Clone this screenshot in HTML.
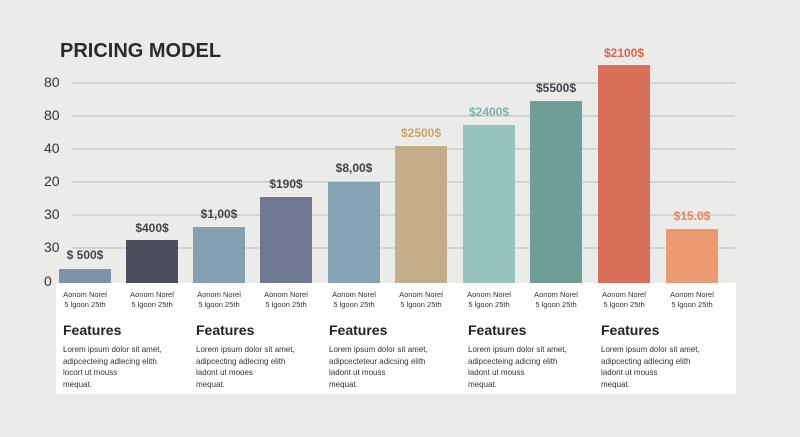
<!DOCTYPE html>
<html><head><style>
body{margin:0;width:800px;height:437px;background:#ebebea;position:relative;overflow:hidden;font-family:"Liberation Sans",sans-serif}
.a{position:absolute}
.g{position:absolute;left:72px;width:663px;height:2px;background:#d3d3d3}
.y{position:absolute;left:44px;font-size:14px;color:#333;width:20px}
.b{position:absolute;width:52px}
.v{position:absolute;width:80px;text-align:center;font-size:12px;font-weight:bold}
.l{position:absolute;width:70px;text-align:center;font-size:7.5px;color:#333;line-height:10px}
.f{position:absolute;top:322px;font-size:14px;font-weight:bold;color:#222}
.t{position:absolute;top:344px;font-size:8px;color:#333;line-height:11.5px}
</style></head><body>
<div class="a" style="left:60px;top:40px;font-size:20px;font-weight:bold;color:#2b2b2b">PRICING MODEL</div>
<div class="a" style="left:56px;top:283px;width:680px;height:111px;background:#fff"></div>
<div class="g" style="top:82px"></div><div class="g" style="top:115px"></div><div class="g" style="top:148px"></div><div class="g" style="top:181px"></div><div class="g" style="top:214px"></div><div class="g" style="top:247px"></div>
<div class="y" style="top:74px">80</div><div class="y" style="top:107px">80</div><div class="y" style="top:140px">40</div><div class="y" style="top:173px">20</div><div class="y" style="top:206px">30</div><div class="y" style="top:239px">30</div><div class="y" style="top:273px">0</div>
<div class="b" style="left:59px;top:269px;height:14px;background:#7e93a6"></div>
<div class="b" style="left:126px;top:240px;height:43px;background:#4a4e5c"></div>
<div class="b" style="left:193px;top:227px;height:56px;background:#84a0b0"></div>
<div class="b" style="left:260px;top:197px;height:86px;background:#6f7890"></div>
<div class="b" style="left:328px;top:182px;height:101px;background:#85a3b3"></div>
<div class="b" style="left:395px;top:146px;height:137px;background:#c4ae8a"></div>
<div class="b" style="left:463px;top:125px;height:158px;background:#96c4bd"></div>
<div class="b" style="left:530px;top:101px;height:182px;background:#6e9e96"></div>
<div class="b" style="left:598px;top:65px;height:218px;background:#d8705a"></div>
<div class="b" style="left:666px;top:229px;height:54px;background:#eb9a72"></div>
<div class="v" style="left:45px;top:248px;color:#444">$ 500$</div>
<div class="v" style="left:112px;top:221px;color:#444">$400$</div>
<div class="v" style="left:179px;top:207px;color:#444">$1,00$</div>
<div class="v" style="left:246px;top:177px;color:#444">$190$</div>
<div class="v" style="left:314px;top:161px;color:#444">$8,00$</div>
<div class="v" style="left:381px;top:126px;color:#c9a46a">$2500$</div>
<div class="v" style="left:449px;top:105px;color:#7ab5ac">$2400$</div>
<div class="v" style="left:516px;top:81px;color:#3f4448">$5500$</div>
<div class="v" style="left:584px;top:46px;color:#d8664a">$2100$</div>
<div class="v" style="left:652px;top:209px;color:#e8875e">$15.0$</div>
<div class="l" style="left:50px;top:290px">Aonom Norel<br>5 lgoon 25th</div>
<div class="l" style="left:117px;top:290px">Aonom Norel<br>5 lgoon 25th</div>
<div class="l" style="left:184px;top:290px">Aonom Norel<br>5 lgoon 25th</div>
<div class="l" style="left:251px;top:290px">Aonom Norel<br>5 lgoon 25th</div>
<div class="l" style="left:319px;top:290px">Aonom Norel<br>5 lgoon 25th</div>
<div class="l" style="left:386px;top:290px">Aonom Norel<br>5 lgoon 25th</div>
<div class="l" style="left:454px;top:290px">Aonom Norel<br>5 lgoon 25th</div>
<div class="l" style="left:521px;top:290px">Aonom Norel<br>5 lgoon 25th</div>
<div class="l" style="left:589px;top:290px">Aonom Norel<br>5 lgoon 25th</div>
<div class="l" style="left:657px;top:290px">Aonom Norel<br>5 lgoon 25th</div>
<div class="f" style="left:63px">Features</div><div class="f" style="left:196px">Features</div><div class="f" style="left:329px">Features</div><div class="f" style="left:468px">Features</div><div class="f" style="left:601px">Features</div>
<div class="t" style="left:63px">Lorem ipsum dolor sit amet,<br>adipcecteing adlecing elith<br>locort ut mouss<br>mequat.</div>
<div class="t" style="left:196px">Lorem ipsum dolor sit amet,<br>adipcecting adlecing elith<br>ladont ut mooes<br>mequat.</div>
<div class="t" style="left:329px">Lorem ipsum dolor sit amet,<br>adipcecteteur adicsing elith<br>ladont ut mouss<br>mequat.</div>
<div class="t" style="left:468px">Lorem ipsum dolor sit amet,<br>adipcecteing adicing elith<br>ladont ut mouss<br>mequat.</div>
<div class="t" style="left:601px">Lorem ipsum dolor sit amet,<br>adipcecting adlecing elith<br>ladont ut mouss<br>mequat.</div>
</body></html>
